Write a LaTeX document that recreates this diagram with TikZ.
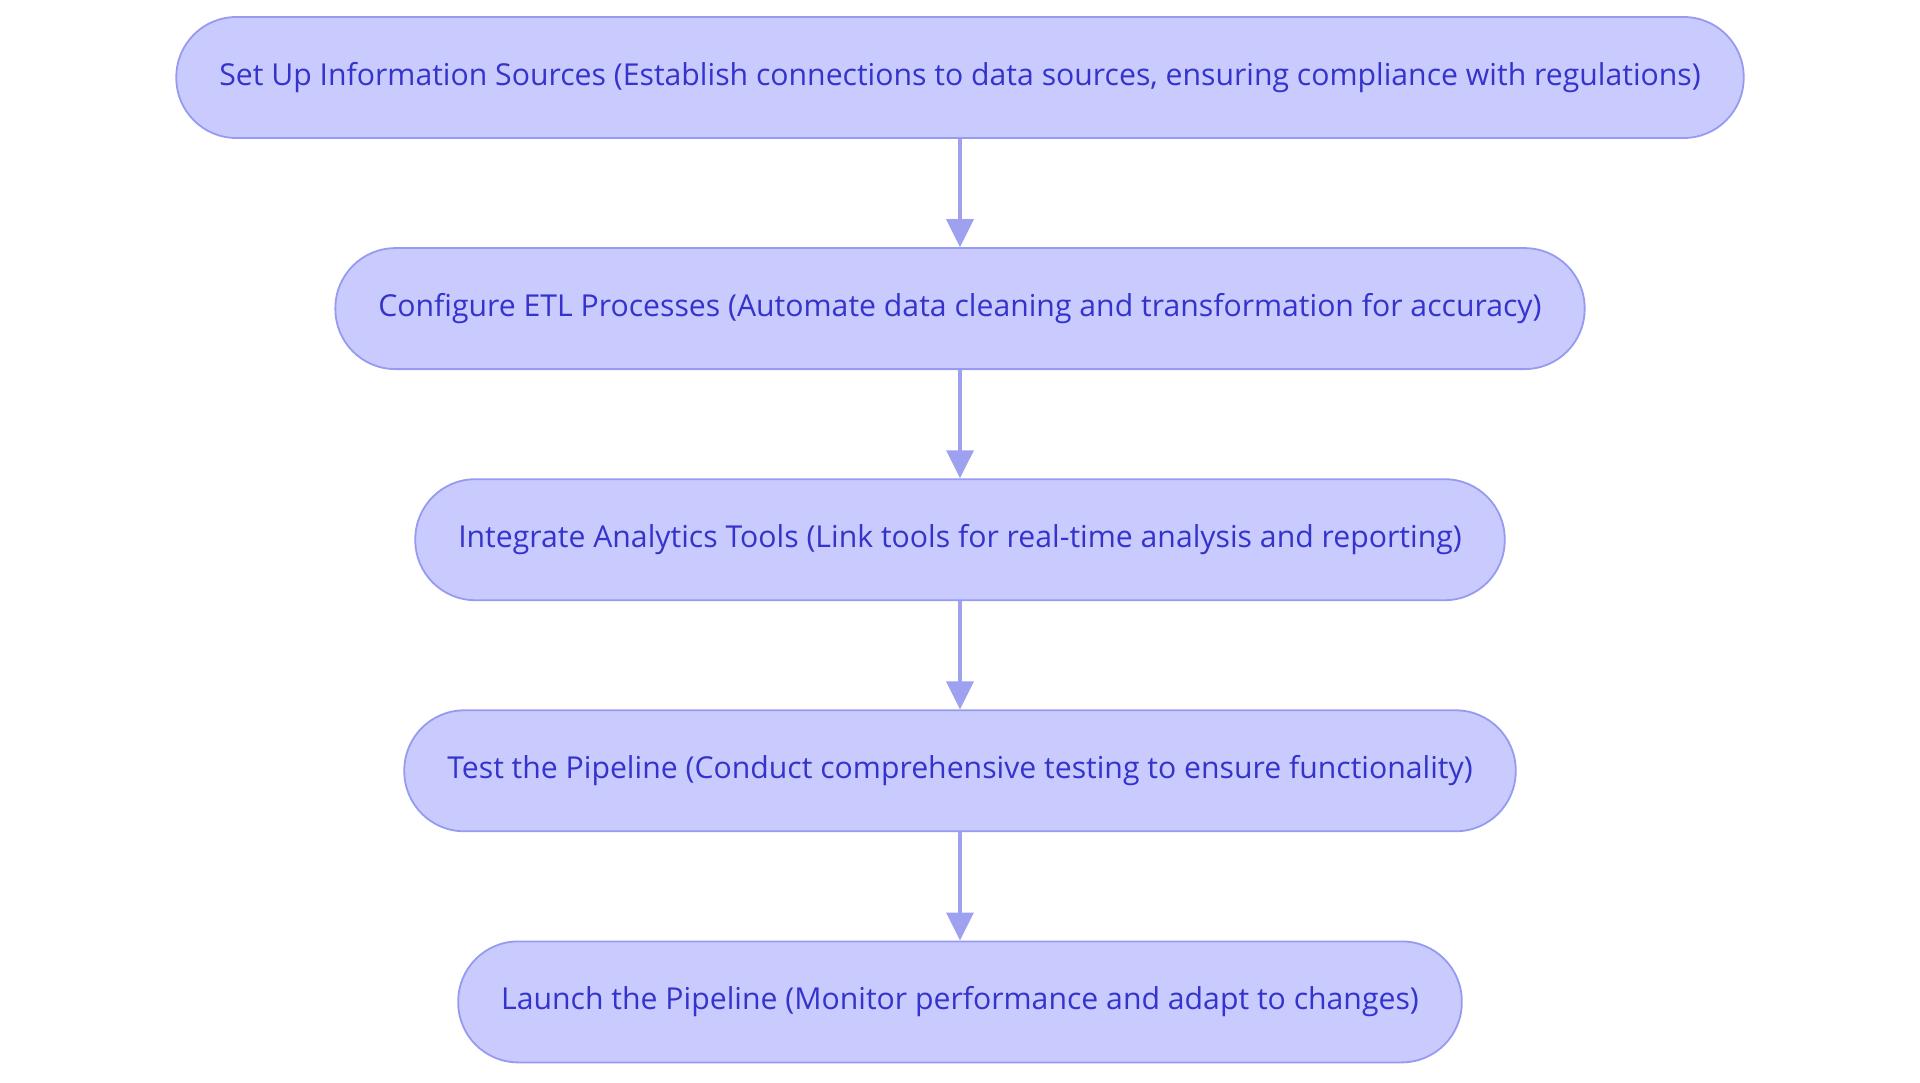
\documentclass[tikz,border=0pt]{standalone}
\usepackage{fontspec}
\setmainfont{Open Sans}
\usetikzlibrary{positioning,arrows.meta}
\begin{document}
\begin{tikzpicture}[x=1pt,y=1pt,
    stepnode/.style={draw=stepborder, line width=1.8pt, fill=stepfill, text=steptext,
        rounded corners=60pt, minimum height=121pt, inner xsep=43pt,
        font=\fontsize{30.2}{36}\selectfont},
    flow/.style={draw=arrowcolor, line width=3.5pt, -{Triangle[length=28pt,width=27pt]}},
    node distance=108.3pt]
        % Define colors
        \definecolor{stepfill}{RGB}{201,202,253}
        \definecolor{stepborder}{RGB}{150,154,240}
        \definecolor{arrowcolor}{RGB}{158,161,240}
        \definecolor{steptext}{RGB}{52,52,204}

        % Canvas
        \useasboundingbox (0,0) rectangle (1920,-1083);

        % Steps
        \node[stepnode] (sources) at (960,-77.5) {Set Up Information Sources (Establish connections to data sources, ensuring compliance with regulations)};
        \node[stepnode, below=of sources] (etl) {Configure ETL Processes (Automate data cleaning and transformation for accuracy)};
        \node[stepnode, below=of etl] (analytics) {Integrate Analytics Tools (Link tools for real-time analysis and reporting)};
        \node[stepnode, below=of analytics] (testing) {Test the Pipeline (Conduct comprehensive testing to ensure functionality)};
        \node[stepnode, below=of testing] (launch) {Launch the Pipeline (Monitor performance and adapt to changes)};

        % Connectors
        \draw[flow] (sources) -- (etl);
        \draw[flow] (etl) -- (analytics);
        \draw[flow] (analytics) -- (testing);
        \draw[flow] (testing) -- (launch);
\end{tikzpicture}
\end{document}
